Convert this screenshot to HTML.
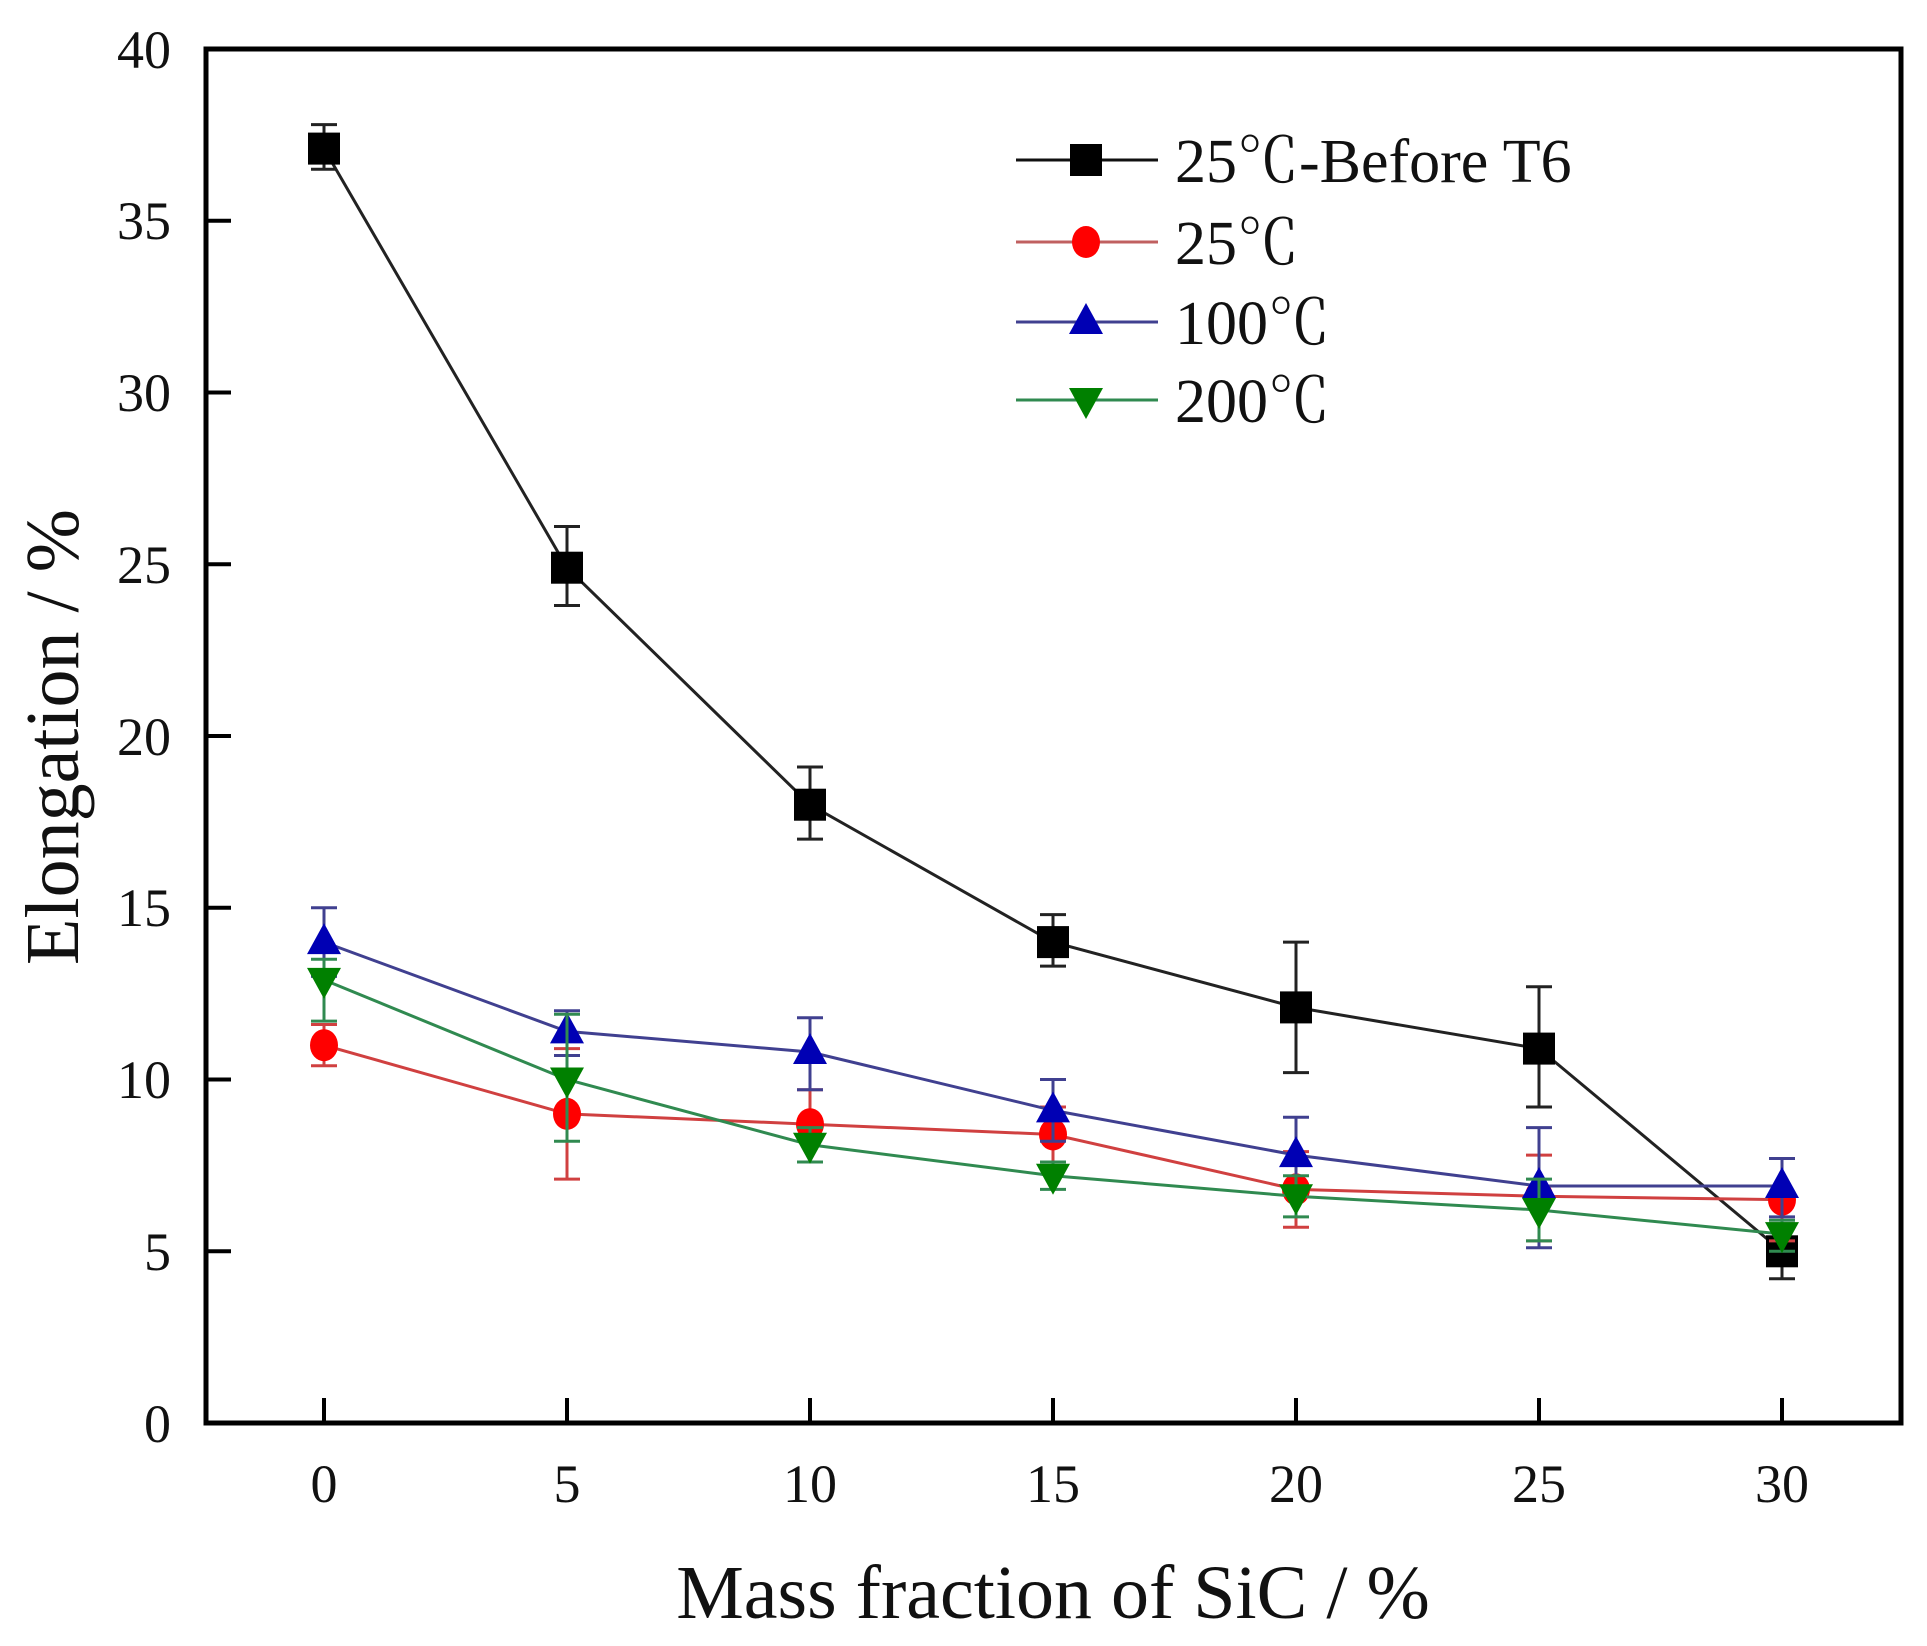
<!DOCTYPE html>
<html><head><meta charset="utf-8"><style>html,body{margin:0;padding:0;background:#fff}svg{display:block}</style></head>
<body>
<svg width="1927" height="1646" viewBox="0 0 1927 1646" xmlns="http://www.w3.org/2000/svg" font-family="'Liberation Serif','Noto Serif CJK SC',serif">
<defs>
<rect id="sq" x="-16" y="-16" width="32" height="32" fill="#000"/>
<ellipse id="ci" rx="14" ry="16" fill="#f00"/>
<path id="tu" d="M0,-19 L17,12 L-17,12 Z" fill="#0000b4"/>
<path id="td" d="M0,19 L17,-12 L-17,-12 Z" fill="#008000"/>
</defs>
<rect x="206" y="49" width="1695" height="1374" fill="none" stroke="#000" stroke-width="5"/>
<g stroke="#000" stroke-width="4">
<line x1="206" y1="1251.25" x2="231" y2="1251.25"/><line x1="206" y1="1079.5" x2="231" y2="1079.5"/>
<line x1="206" y1="907.75" x2="231" y2="907.75"/><line x1="206" y1="736" x2="231" y2="736"/>
<line x1="206" y1="564.25" x2="231" y2="564.25"/><line x1="206" y1="392.5" x2="231" y2="392.5"/>
<line x1="206" y1="220.75" x2="231" y2="220.75"/>
<line x1="324" y1="1423" x2="324" y2="1398"/><line x1="567" y1="1423" x2="567" y2="1398"/>
<line x1="810" y1="1423" x2="810" y2="1398"/><line x1="1053" y1="1423" x2="1053" y2="1398"/>
<line x1="1296" y1="1423" x2="1296" y2="1398"/><line x1="1539" y1="1423" x2="1539" y2="1398"/>
<line x1="1782" y1="1423" x2="1782" y2="1398"/>
</g>
<g font-size="54" fill="#111" text-anchor="end">
<text x="171" y="1442">0</text><text x="171" y="1270">5</text><text x="171" y="1098">10</text>
<text x="171" y="926">15</text><text x="171" y="755">20</text><text x="171" y="583">25</text>
<text x="171" y="411">30</text><text x="171" y="239">35</text><text x="171" y="68">40</text>
</g>
<g font-size="54" fill="#111" text-anchor="middle">
<text x="324" y="1502">0</text><text x="567" y="1502">5</text><text x="810" y="1502">10</text>
<text x="1053" y="1502">15</text><text x="1296" y="1502">20</text><text x="1539" y="1502">25</text>
<text x="1782" y="1502">30</text>
</g>
<text x="1053" y="1618" font-size="76" text-anchor="middle" fill="#111">Mass fraction of SiC / %</text>
<text transform="translate(78,737) rotate(-90)" font-size="76" text-anchor="middle" fill="#111">Elongation / %</text>

<g stroke="#222" stroke-width="3" fill="none">
<polyline points="324,148.6 567,567.7 810,804.7 1053,942.1 1296,1007.4 1539,1048.6 1782,1251.3"/>
<path d="M324,124.6V169.2M311,124.6H337M311,169.2H337 M567,526.5V605.5M554,526.5H580M554,605.5H580 M810,767V839.1M797,767H823M797,839.1H823 M1053,914.6V966.1M1040,914.6H1066M1040,966.1H1066 M1296,942.1V1072.6M1283,942.1H1309M1283,1072.6H1309 M1539,986.8V1107M1526,986.8H1552M1526,1107H1552 M1782,1223.8V1278.7M1769,1223.8H1795M1769,1278.7H1795"/>
</g>
<use href="#sq" x="324" y="148.6"/><use href="#sq" x="567" y="567.7"/><use href="#sq" x="810" y="804.7"/><use href="#sq" x="1053" y="942.1"/><use href="#sq" x="1296" y="1007.4"/><use href="#sq" x="1539" y="1048.6"/><use href="#sq" x="1782" y="1251.3"/>
<g stroke="#d04040" stroke-width="3" fill="none">
<polyline points="324,1045.2 567,1113.9 810,1124.2 1053,1134.5 1296,1189.4 1539,1196.3 1782,1199.7"/>
<path d="M324,1024.5V1065.8M311,1024.5H337M311,1065.8H337 M567,1048.6V1179.1M554,1048.6H580M554,1179.1H580 M810,1089.8V1162M797,1089.8H823M797,1162H823 M1053,1107V1162M1040,1107H1066M1040,1162H1066 M1296,1151.6V1227.2M1283,1151.6H1309M1283,1227.2H1309 M1539,1155.1V1240.9M1526,1155.1H1552M1526,1240.9H1552 M1782,1158.5V1240.9M1769,1158.5H1795M1769,1240.9H1795"/>
</g>
<use href="#ci" x="324" y="1045.2"/><use href="#ci" x="567" y="1113.9"/><use href="#ci" x="810" y="1124.2"/><use href="#ci" x="1053" y="1134.5"/><use href="#ci" x="1296" y="1189.4"/><use href="#ci" x="1539" y="1196.3"/><use href="#ci" x="1782" y="1199.7"/>
<g stroke="#404090" stroke-width="3" fill="none">
<polyline points="324,942.1 567,1031.4 810,1052 1053,1110.4 1296,1155.1 1539,1186 1782,1186"/>
<path d="M324,907.8V976.4M311,907.8H337M311,976.4H337 M567,1010.8V1055.5M554,1010.8H580M554,1055.5H580 M810,1017.7V1089.8M797,1017.7H823M797,1089.8H823 M1053,1079.5V1141.3M1040,1079.5H1066M1040,1141.3H1066 M1296,1117.3V1189.4M1283,1117.3H1309M1283,1189.4H1309 M1539,1127.6V1247.8M1526,1127.6H1552M1526,1247.8H1552 M1782,1158.5V1216.9M1769,1158.5H1795M1769,1216.9H1795"/>
</g>
<use href="#tu" x="324" y="942.1"/><use href="#tu" x="567" y="1031.4"/><use href="#tu" x="810" y="1052"/><use href="#tu" x="1053" y="1110.4"/><use href="#tu" x="1296" y="1155.1"/><use href="#tu" x="1539" y="1186"/><use href="#tu" x="1782" y="1186"/>
<g stroke="#308a50" stroke-width="3" fill="none">
<polyline points="324,979.9 567,1079.5 810,1144.8 1053,1175.7 1296,1196.3 1539,1210 1782,1234.1"/>
<path d="M324,959.3V1021.1M311,959.3H337M311,1021.1H337 M567,1014.2V1141.3M554,1014.2H580M554,1141.3H580 M810,1127.6V1162M797,1127.6H823M797,1162H823 M1053,1162V1189.4M1040,1162H1066M1040,1189.4H1066 M1296,1175.7V1216.9M1283,1175.7H1309M1283,1216.9H1309 M1539,1179.1V1240.9M1526,1179.1H1552M1526,1240.9H1552 M1782,1220.3V1251.3M1769,1220.3H1795M1769,1251.3H1795"/>
</g>
<use href="#td" x="324" y="979.9"/><use href="#td" x="567" y="1079.5"/><use href="#td" x="810" y="1144.8"/><use href="#td" x="1053" y="1175.7"/><use href="#td" x="1296" y="1196.3"/><use href="#td" x="1539" y="1210"/><use href="#td" x="1782" y="1234.1"/>

<line x1="1016" y1="160" x2="1158" y2="160" stroke="#111" stroke-width="3"/><use href="#sq" x="1086" y="160"/>
<line x1="1016" y1="242" x2="1158" y2="242" stroke="#c06060" stroke-width="3"/><use href="#ci" x="1086" y="242"/>
<line x1="1016" y1="322" x2="1158" y2="322" stroke="#404090" stroke-width="3"/><use href="#tu" x="1086" y="322"/>
<line x1="1016" y1="400" x2="1158" y2="400" stroke="#308a50" stroke-width="3"/><use href="#td" x="1086" y="400"/>
<g font-size="62" fill="#111">
<text x="1175" y="182">25℃-Before T6</text>
<text x="1175" y="264">25℃</text>
<text x="1175" y="344">100℃</text>
<text x="1175" y="422">200℃</text>
</g>
</svg>
</body></html>
